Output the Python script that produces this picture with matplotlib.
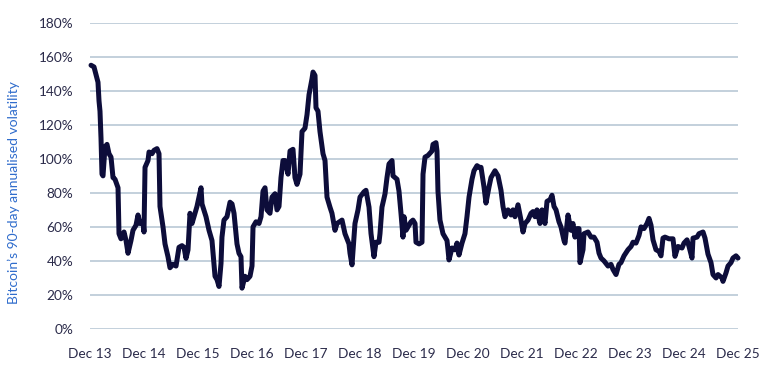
import matplotlib
matplotlib.use("Agg")
import matplotlib.pyplot as plt
import numpy as np

# Time in years since Dec 2013
years_since_dec13 = [
    0.019, 0.074, 0.148, 0.167, 0.185, 0.204, 0.222, 0.241, 0.278, 0.315, 0.352, 0.389, 0.426, 0.463,
    0.519, 0.537, 0.574, 0.630, 0.667, 0.704, 0.759, 0.796, 0.852, 0.889, 0.926, 0.981, 1.000, 1.019,
    1.074, 1.093, 1.148, 1.185, 1.241, 1.278, 1.296, 1.352, 1.389, 1.444, 1.481, 1.537, 1.593, 1.648,
    1.704, 1.741, 1.778, 1.815, 1.852, 1.889, 1.944, 1.981, 2.056, 2.074, 2.148, 2.204, 2.259, 2.315,
    2.352, 2.389, 2.426, 2.444, 2.481, 2.537, 2.593, 2.630, 2.667, 2.722, 2.759, 2.796, 2.815, 2.870,
    2.907, 2.963, 3.000, 3.019, 3.074, 3.130, 3.167, 3.204, 3.241, 3.278, 3.333, 3.370, 3.426, 3.463,
    3.500, 3.537, 3.574, 3.611, 3.667, 3.704, 3.759, 3.796, 3.833, 3.889, 3.926, 3.981, 4.019, 4.056,
    4.111, 4.130, 4.167, 4.185, 4.222, 4.259, 4.315, 4.352, 4.389, 4.444, 4.481, 4.537, 4.574, 4.667,
    4.722, 4.796, 4.815, 4.852, 4.907, 4.963, 5.000, 5.074, 5.111, 5.167, 5.204, 5.259, 5.296, 5.352,
    5.370, 5.407, 5.463, 5.500, 5.537, 5.593, 5.611, 5.685, 5.722, 5.759, 5.796, 5.815, 5.852, 5.889,
    5.944, 5.981, 6.019, 6.037, 6.093, 6.148, 6.167, 6.204, 6.259, 6.333, 6.352, 6.407, 6.426, 6.444,
    6.481, 6.537, 6.611, 6.630, 6.648, 6.704, 6.759, 6.796, 6.833, 6.889, 6.944, 6.981, 7.019, 7.074,
    7.111, 7.167, 7.204, 7.241, 7.296, 7.333, 7.389, 7.426, 7.500, 7.556, 7.611, 7.648, 7.685, 7.741,
    7.796, 7.833, 7.870, 7.926, 7.981, 8.019, 8.056, 8.111, 8.167, 8.204, 8.241, 8.278, 8.333, 8.370,
    8.426, 8.463, 8.519, 8.556, 8.593, 8.630, 8.685, 8.722, 8.778, 8.796, 8.852, 8.907, 8.944, 8.981,
    9.019, 9.056, 9.074, 9.130, 9.148, 9.222, 9.278, 9.333, 9.389, 9.426, 9.463, 9.519, 9.593, 9.648,
    9.685, 9.741, 9.796, 9.833, 9.889, 9.963, 10.019, 10.056, 10.111, 10.167, 10.204, 10.259, 10.315,
    10.352, 10.389, 10.426, 10.481, 10.537, 10.574, 10.611, 10.648, 10.722, 10.796, 10.833, 10.889,
    10.963, 11.000, 11.056, 11.093, 11.148, 11.167, 11.241, 11.278, 11.352, 11.389, 11.444, 11.500,
    11.537, 11.593, 11.630, 11.704, 11.722, 11.778, 11.815, 11.870, 11.907, 11.963, 12.000,
]

# Bitcoin 90-day annualised volatility (%)
volatility = [
    155, 154, 145, 134, 128, 112, 91, 90, 107, 108.5, 103, 101, 89, 88,
    83, 56, 53, 57, 52, 44.5, 52, 58, 61, 67, 62, 63, 57, 95,
    99, 104, 103, 105, 106, 103, 72, 60, 50, 42.5, 36, 38, 37, 48,
    49, 48, 41.5, 46.5, 68, 62, 68, 72, 83, 73.5, 66, 58, 52, 31,
    29, 25, 38.5, 54, 64, 66, 74.5, 73.5, 68, 50, 44.5, 42.5, 24, 31,
    29, 31, 37, 60, 63, 62, 66, 81, 83, 70, 68, 77.5, 79.5, 70,
    72, 89, 99, 99, 91, 104.6, 105.6, 89, 85, 91, 116, 118, 126, 137.7,
    147, 151, 149, 130, 128, 116, 103, 99, 77.5, 71.6, 68, 58, 62, 64,
    56, 50, 44.5, 37.7, 62, 70, 77.5, 80.6, 81.5, 71.6, 56, 42.5, 51, 51,
    56, 71.6, 79.4, 89, 97, 99, 90, 88, 81, 68, 54, 66, 58, 60,
    63, 64, 62, 51, 50, 51, 91, 101, 102, 104.6, 108.5, 109.5, 104.6, 81,
    64, 56, 52, 46.5, 40.6, 47.6, 46.5, 50.5, 43.5, 50.5, 56, 66, 77.5, 88,
    93, 96, 95, 95, 83.5, 74, 83.5, 89, 93, 90, 81.5, 72, 66, 70,
    67, 70, 66, 73, 64, 57, 62, 64, 68, 69, 66, 70, 62, 70,
    62, 75, 76, 78.6, 72, 70, 63, 60, 52, 50.5, 67, 58, 62, 54,
    59, 59, 39, 46.6, 56, 57, 54, 54, 51, 44.6, 41.7, 40, 37, 38,
    35, 32, 38, 39, 43, 46.6, 48.5, 51, 50.5, 55, 60, 59, 62,
    65, 61, 52.4, 46.6, 45.6, 43, 53.4, 54, 53, 53, 42.7, 48.5,
    47.6, 50.5, 52.4, 48.5, 41.7, 53.4, 54, 56, 57, 53.4, 44, 39,
    32, 30, 32, 30, 28, 33, 37, 39, 41.7, 43, 41.7,
]

x_labels = ["Dec 13", "Dec 14", "Dec 15", "Dec 16", "Dec 17", "Dec 18", "Dec 19",
            "Dec 20", "Dec 21", "Dec 22", "Dec 23", "Dec 24", "Dec 25"]
y_ticks = [0, 20, 40, 60, 80, 100, 120, 140, 160, 180]

plt.rcParams['font.family'] = ['Lato', 'DejaVu Sans']

fig = plt.figure(figsize=(7.68, 3.68), dpi=100)
ax = fig.add_axes([90/768, 1 - 329/368, (738 - 90)/768, (329 - 22.7)/368])

ax.plot(years_since_dec13, volatility, color="#0d0d3a", linewidth=3.6,
        solid_joinstyle="round", solid_capstyle="round", clip_on=False, zorder=3)

ax.set_xlim(0, 12)
ax.set_ylim(0, 180)
ax.set_yticks(y_ticks)
ax.set_yticklabels([f"{v}%" for v in y_ticks])
ax.set_xticks(np.arange(len(x_labels)))
ax.set_xticklabels(x_labels)
ax.yaxis.grid(True, color="#c3d0dc", linewidth=1.4)
ax.set_axisbelow(True)
for s in ax.spines.values():
    s.set_visible(False)
ax.tick_params(axis="both", length=0, labelsize=9.8, colors="#2b2b4a")
ax.tick_params(axis="y", pad=12)
ax.tick_params(axis="x", pad=14)

fig.text(14/768, 1 - 193/368, "Bitcoin\u2019s 90-day annualised volatility", rotation=90,
         ha="center", va="center", color="#2f6ccc", fontsize=10)

fig.savefig("out.png", dpi=100)
